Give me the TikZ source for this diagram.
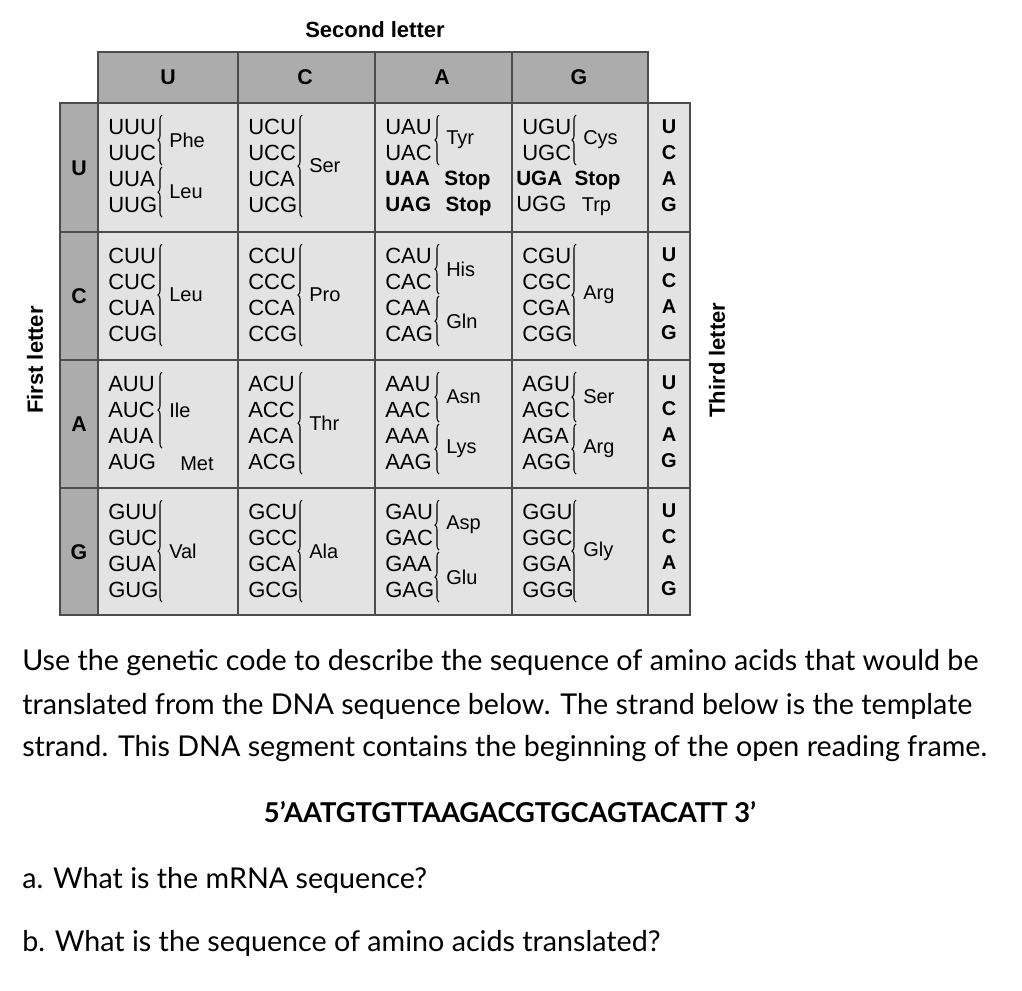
\documentclass[tikz,border=0pt]{standalone}
\usepackage{fontspec}
\setmainfont{Liberation Sans}
\newfontfamily\lato{Lato}
\usetikzlibrary{decorations.pathreplacing}
\newcommand\cdn[6]{%
  \foreach \c [count=\k from 0] in {#3,#4,#5,#6}
    \node[cd] (c-#1-#2-\k) at (#1+10,#2+24+26*\k) {\c};}
\newcommand\grp[5]{%
  \draw[br] (#1+64,#2+24+26*#3-12) -- (#1+64,#2+24+26*#4+12);
  \node[aa] (g-#1-#2-#3) at (#1+71,{#2+24+13*(#3+#4)}) {#5};}
\begin{document}
\begin{tikzpicture}[x=0.75pt,y=-0.75pt,
  cd/.style={anchor=west,inner sep=0pt,font=\fontsize{16.5}{16.5}\selectfont},
  aa/.style={anchor=west,inner sep=0pt,font=\fontsize{15}{15}\selectfont},
  br/.style={decorate,decoration={brace,amplitude=3pt,mirror},line width=0.8pt},
  hd/.style={font=\bfseries\fontsize{16.5}{16.5}\selectfont},
  tl/.style={font=\bfseries\fontsize{16}{16}\selectfont},
  q/.style={anchor=west,inner sep=0pt,font=\lato\fontsize{21.5}{21.5}\selectfont}]
\useasboundingbox (0,0) rectangle (1022,990);
\fill[white] (0,0) rectangle (1022,990);
% fills
\fill[gray!65] (98,52) rectangle (648,103);
\fill[gray!65] (60,103) rectangle (98,615);
\fill[gray!22] (98,103) rectangle (690,615);
\draw[line width=1.2pt,black!70] (98,52) rectangle (648,103);
\draw[line width=1.2pt,black!70] (60,103) rectangle (690,615);
\foreach \x in {238,375,512} \draw[line width=1.2pt,black!70] (\x,52) -- (\x,615);
\draw[line width=1.2pt,black!70] (648,52) -- (648,615);
\draw[line width=1.2pt,black!70] (98,103) -- (98,615);
\foreach \y in {232,360,488} \draw[line width=1.2pt,black!70] (60,\y) -- (690,\y);
% headers
\node[hd] (sl) at (375,30) {Second letter};
\node[hd,rotate=90] (fl) at (35,360) {First letter};
\node[hd,rotate=90] (tlab) at (717,360) {Third letter};
\foreach \l [count=\i from 0] in {U,C,A,G} {
  \node[tl] (h\l) at (168+137*\i,77) {\l};
  \node[tl] (f\l) at (79,168+128*\i) {\l};
  \foreach \t [count=\j from 0] in {U,C,A,G}
    \node[tl,font=\bfseries\fontsize{15}{15}\selectfont] (t\l\t) at (669,{127+128*\i+26*\j}) {\t};
}
% row U
\cdn{98}{103}{UUU}{UUC}{UUA}{UUG}
\grp{98}{103}{0}{1}{Phe}\grp{98}{103}{2}{3}{Leu}
\cdn{238}{103}{UCU}{UCC}{UCA}{UCG}
\grp{238}{103}{0}{3}{Ser}
\cdn{375}{103}{UAU}{UAC}{}{}
\grp{375}{103}{0}{1}{Tyr}
\node[cd,font=\bfseries\fontsize{15.5}{15.5}\selectfont] (uaa) at (385,180) {UAA\hspace{0.7em}Stop};
\node[cd,font=\bfseries\fontsize{15.5}{15.5}\selectfont] (uag) at (385,206) {UAG\hspace{0.7em}Stop};
\cdn{512}{103}{UGU}{UGC}{}{}
\grp{512}{103}{0}{1}{Cys}
\node[cd,font=\bfseries\fontsize{15.5}{15.5}\selectfont] (uga) at (516,180) {UGA\hspace{0.6em}Stop};
\node[cd] (ugg) at (516,206) {UGG\hspace{0.7em}{\fontsize{15}{15}\selectfont Trp}};
% row C
\cdn{98}{232}{CUU}{CUC}{CUA}{CUG}
\grp{98}{232}{0}{3}{Leu}
\cdn{238}{232}{CCU}{CCC}{CCA}{CCG}
\grp{238}{232}{0}{3}{Pro}
\cdn{375}{232}{CAU}{CAC}{CAA}{CAG}
\grp{375}{232}{0}{1}{His}\grp{375}{232}{2}{3}{Gln}
\cdn{512}{232}{CGU}{CGC}{CGA}{CGG}
\grp{512}{232}{0}{3}{Arg}
% row A
\cdn{98}{360}{AUU}{AUC}{AUA}{AUG}
\grp{98}{360}{0}{2}{Ile}
\node[aa] (met) at (180,464) {Met};
\cdn{238}{360}{ACU}{ACC}{ACA}{ACG}
\grp{238}{360}{0}{3}{Thr}
\cdn{375}{360}{AAU}{AAC}{AAA}{AAG}
\grp{375}{360}{0}{1}{Asn}\grp{375}{360}{2}{3}{Lys}
\cdn{512}{360}{AGU}{AGC}{AGA}{AGG}
\grp{512}{360}{0}{1}{Ser}\grp{512}{360}{2}{3}{Arg}
% row G
\cdn{98}{488}{GUU}{GUC}{GUA}{GUG}
\grp{98}{488}{0}{3}{Val}
\cdn{238}{488}{GCU}{GCC}{GCA}{GCG}
\grp{238}{488}{0}{3}{Ala}
\cdn{375}{488}{GAU}{GAC}{GAA}{GAG}
\grp{375}{488}{0}{1}{Asp}\grp{375}{488}{2}{3}{Glu}
\cdn{512}{488}{GGU}{GGC}{GGA}{GGG}
\grp{512}{488}{0}{3}{Gly}
% question text
\node[q] (l1) at (22,663) {Use the genetic code to describe the sequence of amino acids that would be};
\node[q] (l2) at (22,706) {translated from the DNA sequence below. The strand below is the template};
\node[q] (l3) at (22,749) {strand. This DNA segment contains the beginning of the open reading frame.};
\node[q,anchor=center,font=\lato\bfseries\fontsize{20.5}{20.5}\selectfont] (dna) at (510,812) {5’AATGTGTTAAGACGTGCAGTACATT 3’};
\node[q] (qa) at (22,880) {a. What is the mRNA sequence?};
\node[q] (qb) at (22,943) {b. What is the sequence of amino acids translated?};
\end{tikzpicture}
\end{document}
